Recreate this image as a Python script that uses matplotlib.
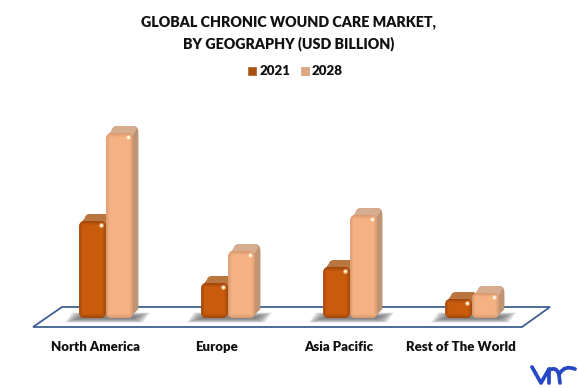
import numpy as np
import matplotlib
matplotlib.use("Agg")
import matplotlib.pyplot as plt
from matplotlib.patches import FancyBboxPatch, Polygon, PathPatch
from matplotlib.path import Path

plt.rcParams['font.family'] = ['Lato', 'DejaVu Sans']

categories = ["North America", "Europe", "Asia Pacific", "Rest of The World"]
years = ["2021", "2028"]
values_2021 = [9.7, 3.5, 5.1, 1.9]
values_2028 = [18.5, 6.7, 10.3, 2.5]
title_lines = ["GLOBAL CHRONIC WOUND CARE MARKET,", "BY GEOGRAPHY (USD BILLION)"]

W, H = 579, 388
fig = plt.figure(figsize=(W/100, H/100), dpi=100, facecolor="white")

px = fig.add_axes([0, 0, 1, 1], zorder=1)
px.set_xlim(0, W); px.set_ylim(H, 0); px.axis("off")

PXX, PXY, X0, Y0 = 122.0, 10.0, 106.0, 318.0
ax = fig.add_axes([0, 0, 1, 1], zorder=2)
ax.patch.set_alpha(0)
ax.set_xlim(-X0/PXX, (W-X0)/PXX)
ax.set_ylim(-(H-Y0)/PXY, Y0/PXY)
ax.axis("off")

px.add_patch(Polygon([(33, 327), (62, 307), (550, 307), (522, 327)], closed=True,
                     fc="white", ec="#3f5f92", lw=1.3, zorder=1))

BW = 26.5/PXX
DX, DY = 5.5/PXX, 7.0/PXY
RX = 5.5/PXX
RY = RX*PXX/PXY
palette = {
    "2021": dict(base=(0.79, 0.36, 0.05), dark=(0.64, 0.28, 0.05), side="#a8622c", top="#b9763f", edge="#a85012"),
    "2028": dict(base=(0.96, 0.70, 0.52), dark=(0.86, 0.61, 0.44), side="#bf9472", top="#d6ae8f", edge="#e0a57f"),
}

def rbox(x, y0, v, fc, z):
    b = FancyBboxPatch((x+RX, y0+RY), BW-2*RX, v-2*RY,
                       boxstyle=f"round,pad={RX},rounding_size={RX}",
                       mutation_aspect=PXX/PXY, fc=fc, ec="none", zorder=z)
    ax.add_patch(b)
    return b

def bar3d(x, v, style, z):
    rbox(x+DX, DY, v, style["side"], z)
    ax.add_patch(Polygon([(x+BW*0.5, 0), (x+BW-0.3*RX, 0.3*RY), (x+BW+DX, DY+0.3*RY), (x+BW+DX, v+DY-RY),
                          (x+BW, v-RY)], closed=True, fc=style["side"], ec="none", zorder=z+0.05))
    ax.add_patch(Polygon([(x+0.15*RX, v-0.6*RY), (x+0.35*RX+DX, v+DY-0.25*RY), (x+RX+DX, v+DY),
                          (x+BW+DX-RX, v+DY), (x+BW+DX-0.25*RX, v+DY-0.35*RY), (x+BW, v-0.5*RY)],
                         closed=True, fc=style["top"], ec="none", zorder=z+0.1))
    box = rbox(x, 0, v, style["edge"], z+0.2)
    g = np.linspace(0, 1, 60)
    horiz = np.clip(np.minimum(g, 1-g)/0.14, 0, 1)
    rows = np.linspace(0, v*PXY, max(int(v*PXY), 8))
    vert = np.clip(np.minimum(rows, rows[-1]-rows)/4.0, 0, 1)
    prof = np.minimum.outer(vert, horiz)[:, :, None]
    img = np.array(style["dark"])[None, None, :]*(1-prof) + np.array(style["base"])[None, None, :]*prof
    im = ax.imshow(img, extent=(x, x+BW, 0, v), origin="lower", aspect="auto", zorder=z+0.3, interpolation="bilinear")
    im.set_clip_path(box)
    ax.plot([x+BW-5.0/PXX], [v-4.2/PXY], marker="o", ms=3.6, mfc=(1, 0.88, 0.65), mec="none", alpha=0.55, zorder=z+0.35)
    ax.plot([x+BW-4.5/PXX], [v-3.8/PXY], marker="o", ms=1.9, mfc="white", mec="none", zorder=z+0.4)

for i in range(len(categories)):
    cx = X0 + i*PXX
    for k in range(10):
        s = k*1.3
        t = k*0.42
        px.add_patch(Polygon([(cx-41+s+7, 312.5+t), (cx+44-s, 312.5+t), (cx+37-s, 322.5-t), (cx-41+s, 322.5-t)],
                             closed=True, fc="#666666", ec="none", alpha=0.14, zorder=2))
    bar3d(i-BW-0.002, values_2021[i], palette["2021"], 3)
    bar3d(i+0.002, values_2028[i], palette["2028"], 5)

for line, y in zip(title_lines, (22, 44)):
    fig.text(288.5/W, 1-y/H, line, ha="center", va="center", fontsize=10.3, fontweight="heavy", color="#111111", zorder=5)

for (sx, tx, yr) in ((248, 260, years[0]), (301, 312, years[1])):
    c = palette[yr]
    px.add_patch(Polygon([(sx, 67), (sx+8, 67), (sx+8, 75), (sx, 75)], closed=True,
                         fc=c["edge"], ec=c["top"], lw=0.7, zorder=3))
    fig.text(tx/W, 1-71/H, yr, ha="left", va="center", fontsize=9.6, fontweight="heavy", color="#111111", zorder=5)

for label, cx in zip(categories, (95.5, 217, 338.5, 461)):
    fig.text(cx/W, 1-347/H, label, ha="center", va="center", fontsize=9.5, fontweight="heavy", color="#111111", zorder=5)

C = Path.CURVE3; L = Path.LINETO; M = Path.MOVETO
logo = Path([(532, 367), (541, 383), (549, 369),
             (549, 383), (549, 370), (557, 366), (559, 375), (560, 383),
             (560, 373), (565, 365), (575, 369)],
            [M, L, L, L, M, C, C, L, M, C, C])
px.add_patch(PathPatch(logo, fc="none", ec="#2748c4", lw=2.7, zorder=4, capstyle="round", joinstyle="round"))

fig.savefig("out.png", dpi=100, facecolor="white")
